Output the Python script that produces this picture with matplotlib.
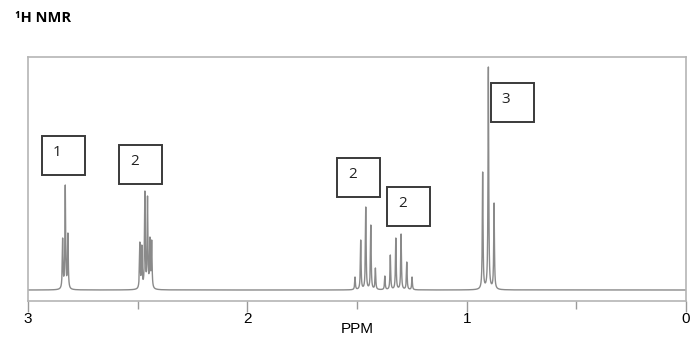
import numpy as np
import matplotlib
matplotlib.use("Agg")
import matplotlib.pyplot as plt
from matplotlib.patches import Rectangle

# Peak positions (ppm) and heights (arbitrary units)
peak_ppm = [2.842, 2.830, 2.818,
            2.490, 2.481, 2.467, 2.455, 2.444, 2.436,
            1.509, 1.483, 1.460, 1.437, 1.416,
            1.373, 1.348, 1.323, 1.299, 1.273, 1.249,
            0.927, 0.901, 0.875]
peak_height = [52, 105, 57,
               48, 45, 99, 94, 53, 50,
               13, 50, 83, 65, 22,
               14, 35, 52, 56, 28, 13,
               118, 223, 87]

# Multiplicity labels
label_text = ["1", "2", "2", "2", "3"]
label_ppm = [2.838, 2.485, 1.491, 1.263, 0.793]
label_y = [134.5, 126, 113, 84, 188]

tick_major = [3, 2, 1, 0]
tick_minor = [2.5, 1.5, 0.5]
xlabel = "PPM"
title = "\u00b9H NMR"

W, H = 700, 352
fig = plt.figure(figsize=(W / 100, H / 100), dpi=100)
ax = fig.add_axes([28 / W, (H - 301) / H, (686 - 28) / W, (301 - 57) / H])

gamma = 0.0019
x = np.linspace(0, 3, 120001)
pos = np.array(peak_ppm)
hts = np.array(peak_height, dtype=float)
L = lambda d: gamma ** 2 / (d ** 2 + gamma ** 2)
A = L(pos[:, None] - pos[None, :])
amps = np.linalg.solve(A, hts)
y = (amps[None, :] * L(x[:, None] - pos[None, :])).sum(axis=1)

ax.plot(x, y, color="#8a8a8a", lw=1.0)
ax.set_xlim(3, 0)
ax.set_ylim(-11, 233)

px_per_ppm = (686 - 28) / 3.0
bw = 43 / px_per_ppm
bh = 39
tx_shift = 6.5 / px_per_ppm
for t, p, yy in zip(label_text, label_ppm, label_y):
    ax.add_patch(Rectangle((p - bw / 2, yy - bh / 2), bw, bh, fc="white",
                           ec="#3a3a3a", lw=1.4, zorder=3))
    ax.text(p + tx_shift, yy + 2.5, t, ha="center", va="center", fontsize=11,
            family="Open Sans", color="#222222", zorder=4)

for s in ["top", "left", "right", "bottom"]:
    ax.spines[s].set_color("#b5b5b5")
    ax.spines[s].set_linewidth(1.2)
ax.set_yticks([])
ax.set_xticks(tick_major)
ax.set_xticks(tick_minor, minor=True)
ax.set_xticklabels([str(t) for t in tick_major], family="Liberation Sans", fontsize=11)
ax.tick_params(axis="x", which="major", length=8, color="#9a9a9a", width=1, pad=0)
ax.tick_params(axis="x", which="minor", length=6, color="#9a9a9a", width=1)
ax.set_xlabel(xlabel, family="Liberation Sans", fontsize=11, labelpad=-3)

fig.text(15 / W, 1 - 18 / H, title, fontsize=10.5, fontweight="bold", family="Open Sans",
         va="center", ha="left")

fig.savefig("out.png", dpi=100)
